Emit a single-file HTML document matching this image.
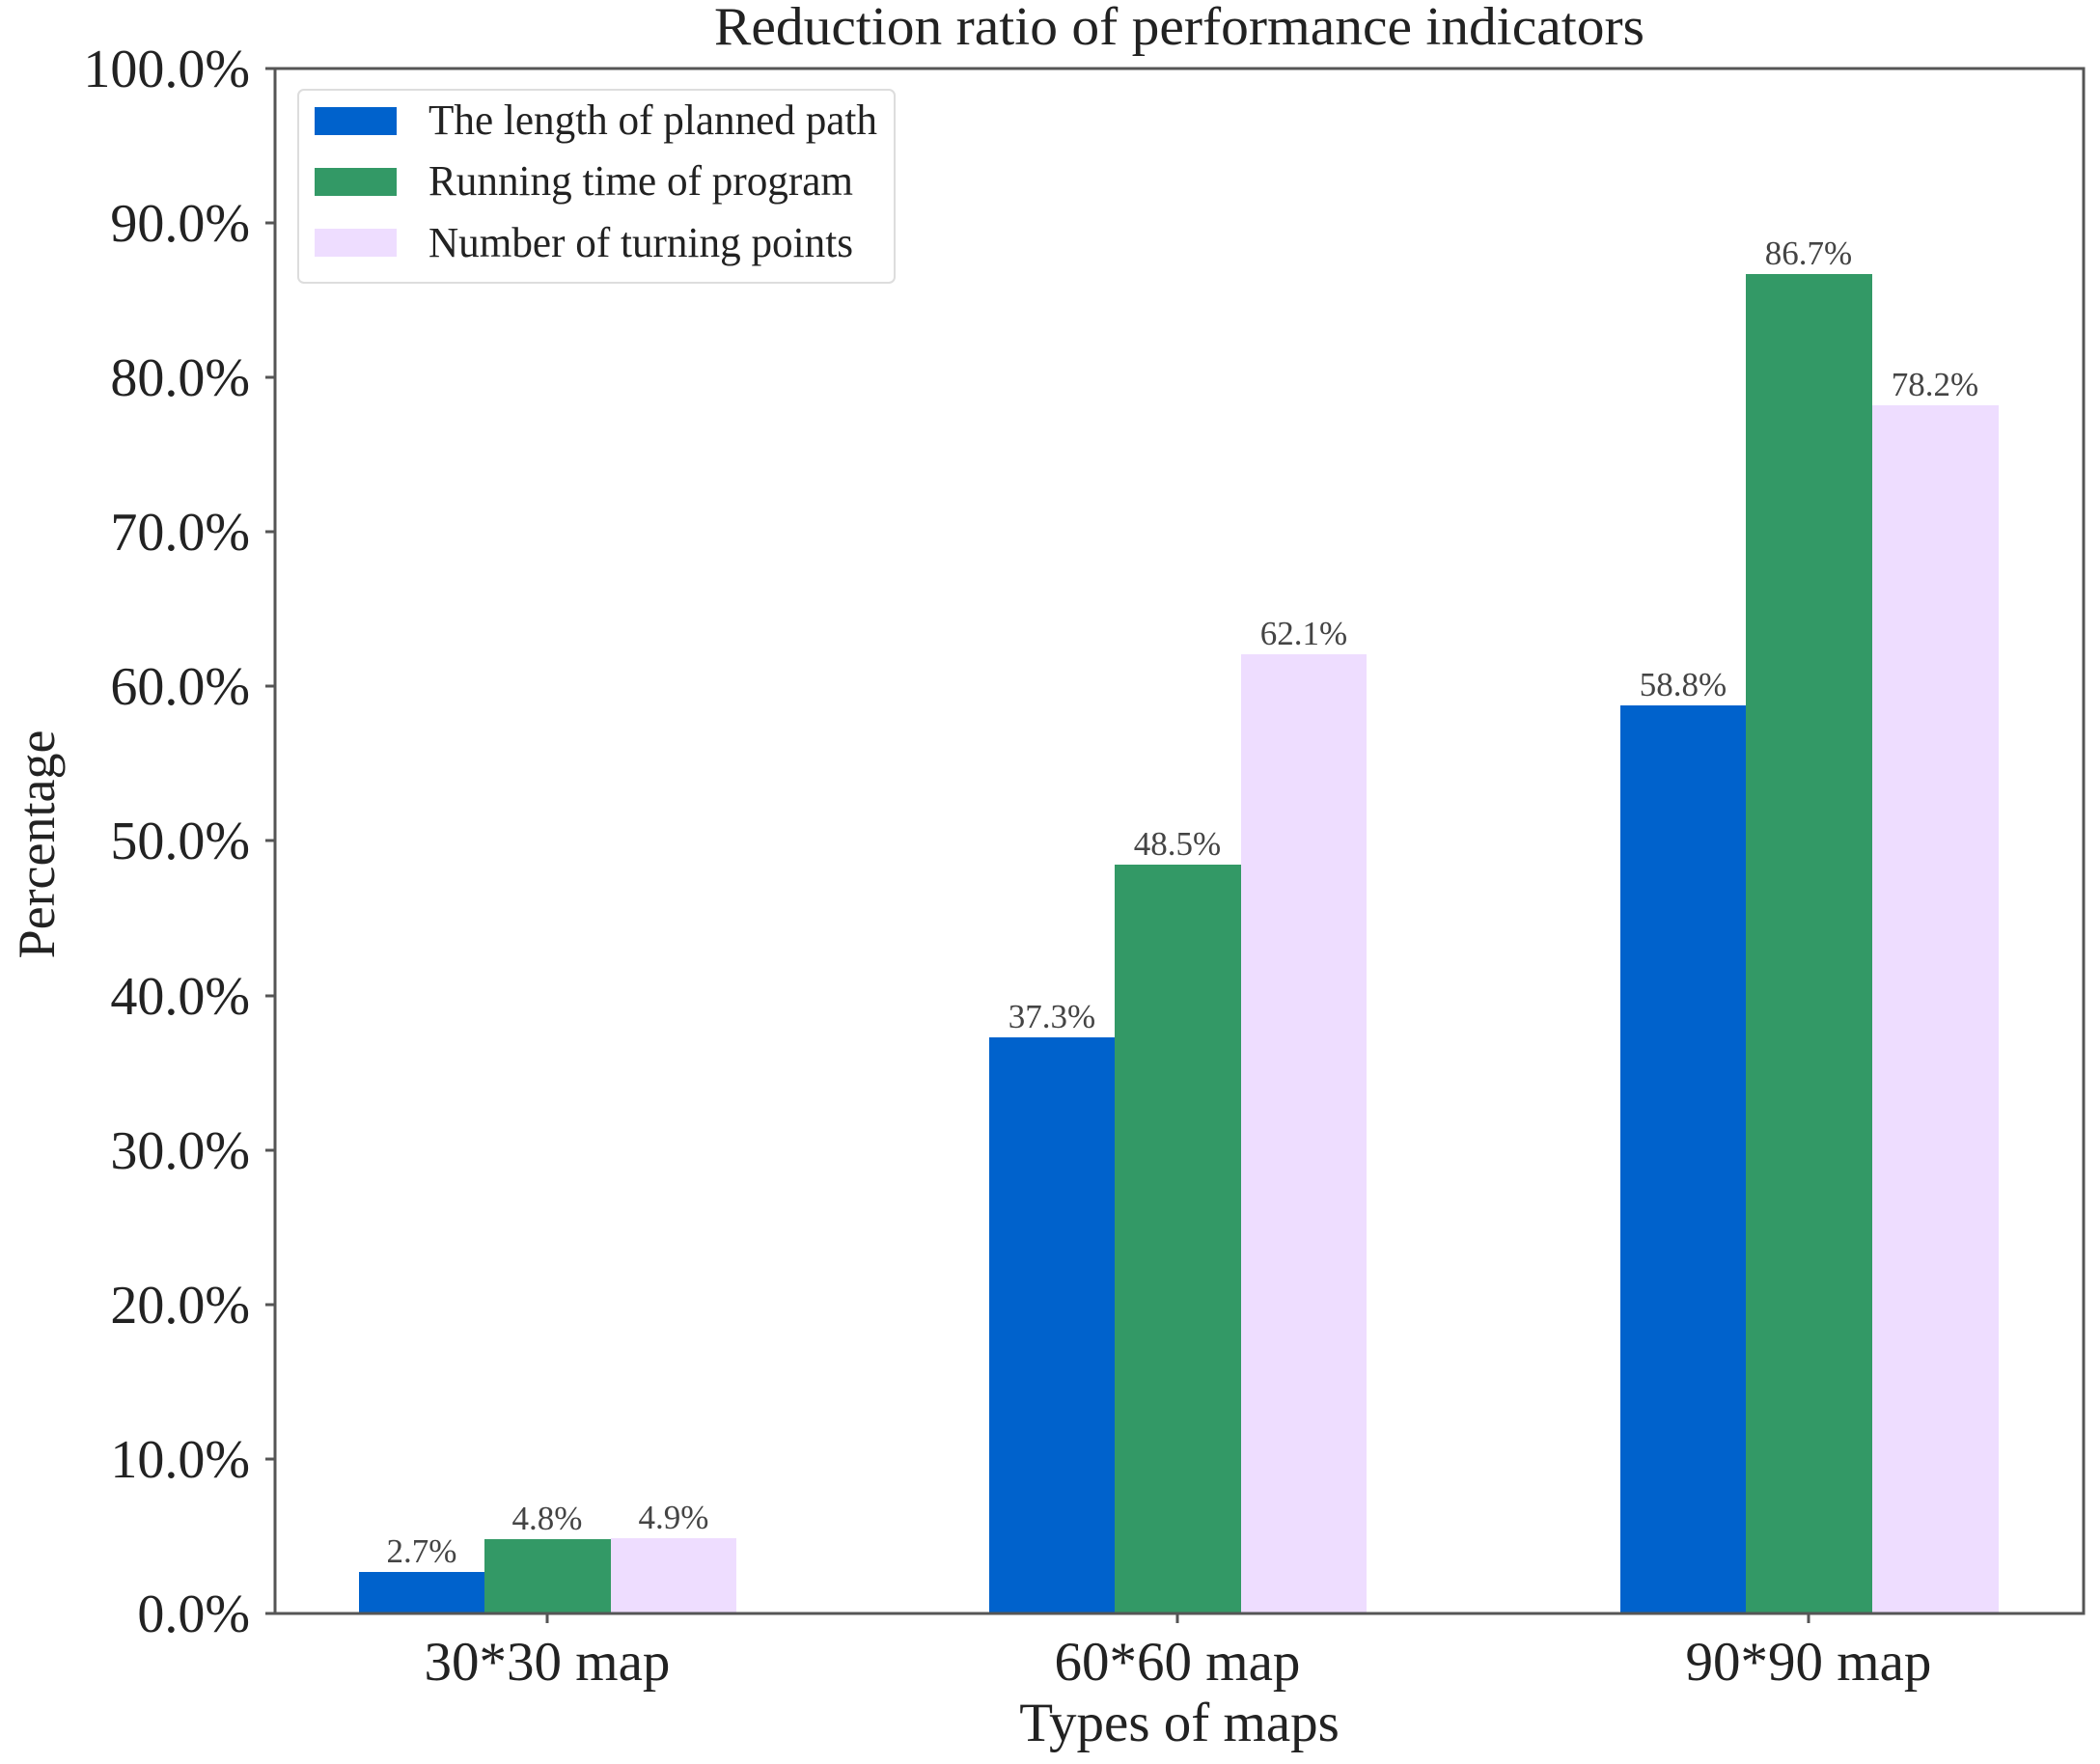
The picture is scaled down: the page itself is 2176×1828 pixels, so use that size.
<!DOCTYPE html>
<html><head><meta charset="utf-8"><style>
html,body{margin:0;padding:0;background:#fff;}
svg{display:block;}
text{font-family:"Liberation Serif",serif;}
</style></head><body>
<svg width="2176" height="1828" viewBox="0 0 2176 1828" xmlns="http://www.w3.org/2000/svg">
<rect width="2176" height="1828" fill="#fff"/>
<g>
<rect x="372" y="1629" width="130" height="43" fill="#0062CC"/>
<rect x="502" y="1595" width="131" height="77" fill="#339966"/>
<rect x="633" y="1594" width="130" height="78" fill="#EEDDFF"/>
<rect x="1025" y="1075" width="130" height="597" fill="#0062CC"/>
<rect x="1155" y="896" width="131" height="776" fill="#339966"/>
<rect x="1286" y="678" width="130" height="994" fill="#EEDDFF"/>
<rect x="1679" y="731" width="130" height="941" fill="#0062CC"/>
<rect x="1809" y="284" width="131" height="1388" fill="#339966"/>
<rect x="1940" y="420" width="131" height="1252" fill="#EEDDFF"/>
</g>
<g font-size="35" fill="#444" text-anchor="middle">
<text x="437" y="1619">2.7%</text>
<text x="567" y="1585">4.8%</text>
<text x="698" y="1584">4.9%</text>
<text x="1090" y="1065">37.3%</text>
<text x="1220" y="886">48.5%</text>
<text x="1351" y="668">62.1%</text>
<text x="1744" y="721">58.8%</text>
<text x="1874" y="274">86.7%</text>
<text x="2005" y="410">78.2%</text>
</g>
<rect x="285" y="71" width="1874" height="1601" fill="none" stroke="#555" stroke-width="3"/>
<g stroke="#555" stroke-width="3">
<line x1="275" x2="285" y1="1672" y2="1672"/><line x1="275" x2="285" y1="1512" y2="1512"/>
<line x1="275" x2="285" y1="1352" y2="1352"/><line x1="275" x2="285" y1="1192" y2="1192"/>
<line x1="275" x2="285" y1="1032" y2="1032"/><line x1="275" x2="285" y1="871" y2="871"/>
<line x1="275" x2="285" y1="711" y2="711"/><line x1="275" x2="285" y1="551" y2="551"/>
<line x1="275" x2="285" y1="391" y2="391"/><line x1="275" x2="285" y1="231" y2="231"/>
<line x1="275" x2="285" y1="71" y2="71"/>
<line x1="567" x2="567" y1="1672" y2="1682"/><line x1="1220" x2="1220" y1="1672" y2="1682"/><line x1="1874" x2="1874" y1="1672" y2="1682"/>
</g>
<g font-size="56" fill="#222" text-anchor="end">
<text x="259" y="1691">0.0%</text>
<text x="259" y="1531">10.0%</text>
<text x="259" y="1371">20.0%</text>
<text x="259" y="1211">30.0%</text>
<text x="259" y="1051">40.0%</text>
<text x="259" y="890">50.0%</text>
<text x="259" y="730">60.0%</text>
<text x="259" y="570">70.0%</text>
<text x="259" y="410">80.0%</text>
<text x="259" y="250">90.0%</text>
<text x="259" y="90">100.0%</text>
</g>
<g font-size="57" fill="#222" text-anchor="middle">
<text x="567" y="1741">30*30 map</text>
<text x="1220" y="1741">60*60 map</text>
<text x="1874" y="1741">90*90 map</text>
<text x="1222" y="1804">Types of maps</text>
<text x="1222" y="46" font-size="56" textLength="964" lengthAdjust="spacingAndGlyphs">Reduction ratio of performance indicators</text>
<text transform="translate(56,875) rotate(-90)" font-size="54">Percentage</text>
</g>
<rect x="309" y="93" width="618" height="200" rx="6" fill="#fff" stroke="#ddd" stroke-width="2"/>
<rect x="326" y="111" width="85" height="29" fill="#0062CC"/>
<rect x="326" y="174" width="85" height="29" fill="#339966"/>
<rect x="326" y="237" width="85" height="29" fill="#EEDDFF"/>
<g font-size="44" fill="#222">
<text x="444" y="139" textLength="465" lengthAdjust="spacingAndGlyphs">The length of planned path</text>
<text x="444" y="202" textLength="440" lengthAdjust="spacingAndGlyphs">Running time of program</text>
<text x="444" y="266" textLength="440" lengthAdjust="spacingAndGlyphs">Number of turning points</text>
</g>
</svg>
</body></html>
